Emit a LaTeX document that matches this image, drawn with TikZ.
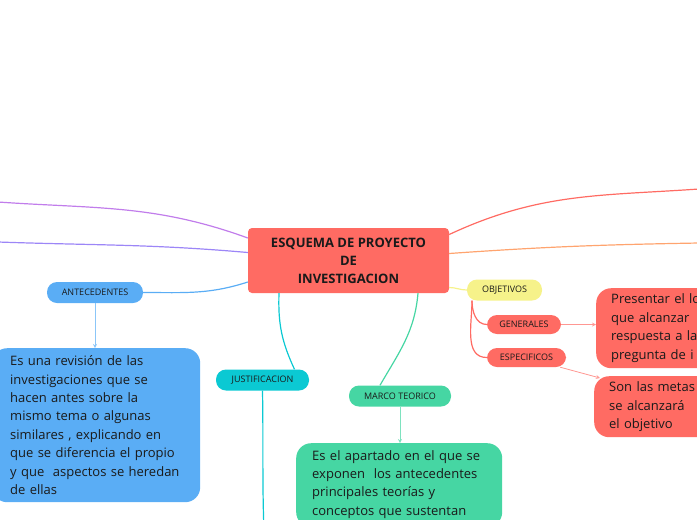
\documentclass[tikz,border=0pt]{standalone}
\usepackage{fontspec}
\setmainfont{Open Sans}
\usetikzlibrary{positioning}
\definecolor{cred}{HTML}{FF6B63}
\definecolor{cblue}{HTML}{5AADF5}
\definecolor{ccyan}{HTML}{0BC9D3}
\definecolor{cgreen}{HTML}{46D6A3}
\definecolor{cyellow}{HTML}{F6F28A}
\definecolor{cpurple}{HTML}{C17DEB}
\definecolor{clavender}{HTML}{9C86F7}
\definecolor{corange}{HTML}{FFA46F}
\definecolor{ctext}{HTML}{1A1A1A}
\tikzset{>=stealth,
  central/.style = {rectangle,rounded corners=4pt,fill=cred,text=ctext,minimum width=201pt,minimum height=65pt,
    inner sep=0pt,align=center,font=\bfseries\fontsize{13}{18}\selectfont},
  pill/.style = {rectangle,rounded corners=10pt,fill=#1,text=ctext,minimum height=21pt,inner sep=0pt,
    font=\fontsize{9}{10}\selectfont},
  bigbox/.style = {rectangle,rounded corners=15pt,fill=#1,text=ctext,anchor=north west,align=left,
    inner ysep=0pt,font=\fontsize{13}{18.4}\selectfont},
  branch/.style = {draw=#1,line width=1.2pt},
  hint/.style = {draw=#1,->,line width=0.8pt}
}
\begin{document}
\begin{tikzpicture}[x=1pt,y=-1pt]
  \useasboundingbox (0,0) rectangle (697,520);
  % central topic
  \node[central] (main) at (348.5,260.5) {ESQUEMA DE PROYECTO\\DE\\INVESTIGACION};
  % free ends
  \coordinate (lp1) at (-2,202);
  \coordinate (lp2) at (-2,242);
  \coordinate (rp1) at (699,189);
  \coordinate (rp2) at (699,243);
  \coordinate (jdown) at (264,532);
  % topics
  \node[pill=cblue,minimum width=96pt] (ante) at (95,292.5) {ANTECEDENTES};
  \node[pill=ccyan,minimum width=93pt] (just) at (262.5,380) {JUSTIFICACION};
  \node[pill=cgreen,minimum width=102pt] (marco) at (400,396) {MARCO TEORICO};
  \node[pill=cyellow,minimum width=75pt] (obj) at (504.5,290) {OBJETIVOS};
  \node[pill=cred,minimum width=74pt,minimum height=19pt] (gen) at (524,324.5) {GENERALES};
  \node[pill=cred,minimum width=79pt,minimum height=19pt] (esp) at (526.5,357.5) {ESPECIFICOS};
  % notes
  \node[bigbox=cblue,text width=172pt,inner xsep=18pt,minimum height=154pt] (antebox) at (-8,348)
    {Es una revisión de las\\investigaciones que se\\hacen antes sobre la\\mismo tema o algunas\\similares , explicando en\\que se diferencia el propio\\y que~ aspectos se heredan\\de ellas};
  \node[bigbox=cgreen,text width=174pt,inner xsep=16pt,inner ysep=7pt,text depth=60pt] (marcobox) at (296,443)
    {Es el apartado en el que se\\exponen~ los antecedentes\\principales teorías y\\conceptos que sustentan};
  \node[bigbox=cred,text width=110pt,inner xsep=15pt,minimum height=80pt] (genbox) at (596,288)
    {Presentar el lo\\que alcanzar\\respuesta a la\\pregunta de i};
  \node[bigbox=cred,text width=110pt,inner xsep=15pt,minimum height=61pt] (espbox) at (594,376)
    {Son las metas\\se alcanzará\\el objetivo};
  % branches
  \draw[branch=cpurple] (lp1) to[out=-4,in=160] ([yshift=22.5pt]main.west);
  \draw[branch=clavender] (lp2) to[out=-2,in=175] ([yshift=8pt]main.west);
  \draw[branch=cblue] (ante.east) to[out=0,in=198] ([yshift=-21.5pt]main.west);
  \draw[branch=ccyan] ([xshift=-69.5pt]main.south) to[out=-92,in=115] ([xshift=32pt]just.north);
  \draw[branch=cgreen] ([xshift=69.5pt]main.south) to[out=-95,in=60] ([xshift=-20pt]marco.north);
  \draw[branch=cyellow] ([yshift=-27pt]main.east) to[out=0,in=180] (obj.west);
  \draw[branch=cred] ([yshift=26pt]main.east) to[out=25,in=184] (rp1);
  \draw[branch=corange] ([yshift=7pt]main.east) to[out=4,in=181] (rp2);
  \draw[branch=cred] ([xshift=-32.5pt]obj.south) to[out=-90,in=180] (gen.west);
  \draw[branch=cred] ([xshift=-32.5pt]obj.south) to[out=-90,in=180] (esp.west);
  \draw[branch=ccyan] (just.south) to[out=-89,in=92] (jdown);
  % arrows
  \draw[hint=cblue!70] (ante.south) -- (ante.south |- antebox.north);
  \draw[hint=cgreen!70] (marco.south) -- (marco.south |- marcobox.north);
  \draw[hint=cred!70] (gen.east) -- (gen.east -| genbox.west);
  \draw[hint=cred!70] ([xshift=-6pt]esp.south east) -- ([xshift=6pt,yshift=-2pt]espbox.north west);
\end{tikzpicture}
\end{document}
